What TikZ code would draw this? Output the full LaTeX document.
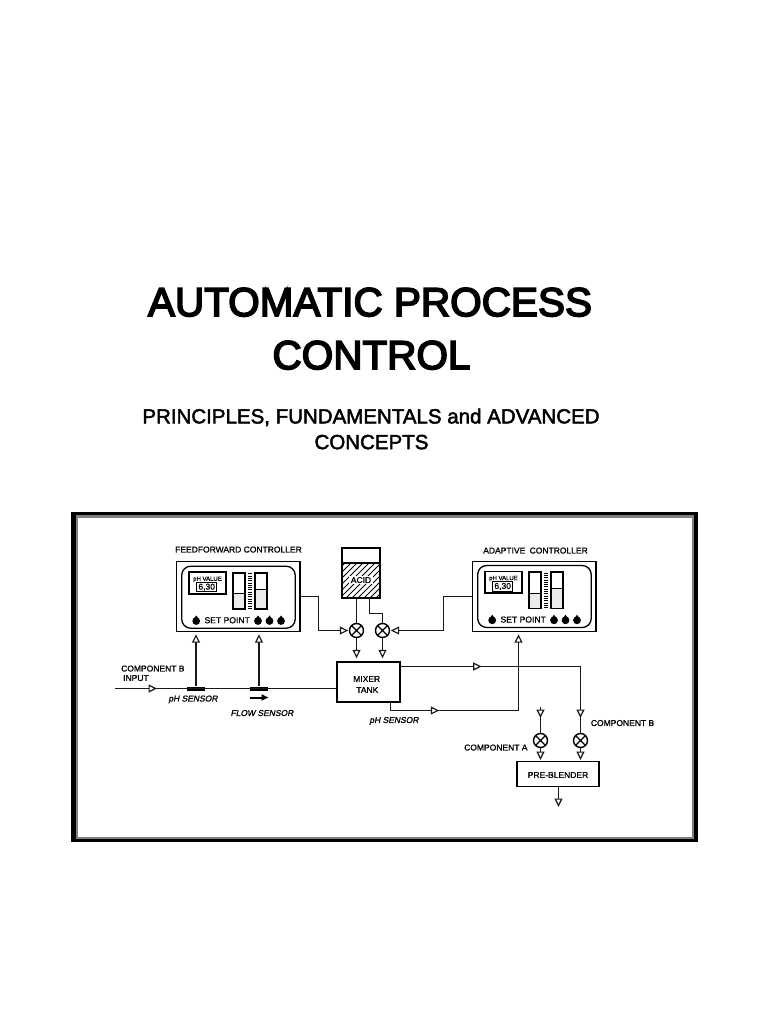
\documentclass[tikz,border=0pt]{standalone}
\usepackage{fontspec}
\setmainfont{Liberation Sans}
\newfontfamily\titlefont[FakeBold=4]{Liberation Sans}
\newfontfamily\subfont[FakeBold=2.2]{Liberation Sans}
\newfontfamily\labelfont[FakeBold=0.9]{Liberation Sans}
\newfontfamily\labelitalic[FakeBold=0.9,FakeSlant=0.2]{Liberation Sans}
\usetikzlibrary{arrows.meta,decorations.markings,calc}
\tikzset{
  tri/.tip={Triangle[fill=white,length=8.5pt,width=8pt,line width=1.2pt]},
  wire/.style={draw=black!90,line width=1.5pt},
  arrowwire/.style={wire,-{tri},shorten >=#1},
  arrowwire/.default=2pt,
  midarr/.style={postaction={decorate,decoration={markings,mark=at position #1 with {\arrow{tri}}}}},
  blockbox/.style={draw=black,line width=1.4pt,inner sep=0pt,fill=white},
  valve/.style={circle,draw=black,line width=1.4pt,fill=white,inner sep=0pt,minimum size=14pt,
    path picture={\draw[line width=1.2pt]
      (path picture bounding box.north west)--(path picture bounding box.south east)
      (path picture bounding box.north east)--(path picture bounding box.south west);}},
  lab/.style={font=\labelfont\fontsize{8.5}{10}\selectfont,text depth=0pt,inner sep=0pt},
  itlab/.style={font=\labelitalic\fontsize{8.5}{10}\selectfont,text depth=0pt,inner sep=0pt},
  sensorbar/.style={fill=black,inner sep=0pt,minimum width=18pt,minimum height=4pt},
  barbox/.style={draw=black,line width=1.6pt,fill=white},
  dropm/.pic={\fill (0,0.8) circle (3.9);\fill (-2.6,-1) -- (0,-4.8) -- (2.6,-1) -- cycle;},
  panel/.pic={
    \draw[line width=1.3pt,rounded corners=9pt] (5,4.5) rectangle (118.5,66.5);
    \draw[line width=1.8pt,fill=white] (12.5,10.5) rectangle (49,32);
    \node[font=\labelfont\fontsize{6}{7}\selectfont,inner sep=0pt,text depth=0pt] (phtext) at (30.8,17) {pH VALUE};
    \node[draw=black,line width=1pt,fill=white,font=\labelfont\fontsize{8.5}{10}\selectfont,inner sep=0pt,
          minimum width=19.5pt,minimum height=9.5pt] (phval) at (30,25.5) {6,30};
    \draw[barbox] (56,11) rectangle (68,47.5);
    \fill[black!8] (56.8,32) rectangle (67.2,46.7);
    \draw[line width=.9pt] (56,32) -- (68,32);
    \draw[barbox] (78.3,11) rectangle (90.3,47.5);
    \fill[black!8] (79.1,27.5) rectangle (89.5,46.7);
    \draw[line width=.9pt] (78.3,27.5) -- (90.3,27.5);
    \foreach \t in {12,14.3,...,47} {\draw[line width=.8pt] (71.3,\t) -- (75.3,\t);}
    \pic at (19.5,58.5) {dropm};
    \pic at (81.3,58.5) {dropm};
    \pic at (92.8,58.5) {dropm};
    \pic at (104.3,58.5) {dropm};
    \node[font=\labelfont\fontsize{8.6}{11}\selectfont,inner sep=0pt,text depth=0pt] (sp) at (50.5,58.5) {SET POINT};
  },
}
\begin{document}
\begin{tikzpicture}[x=1pt,y=-1pt]
\useasboundingbox (0,0) rectangle (768,1024);
\fill[white] (0,0) rectangle (768,1024);
% titles
\node[font=\titlefont\fontsize{40.5}{44}\selectfont,text depth=0pt,inner sep=0pt] (t1) at (370,302) {AUTOMATIC PROCESS};
\node[font=\titlefont\fontsize{40.5}{44}\selectfont,text depth=0pt,inner sep=0pt] (t2) at (371.5,355) {CONTROL};
\node[font=\subfont\fontsize{20.5}{24}\selectfont,text depth=0pt,inner sep=0pt] (s1) at (371,416) {PRINCIPLES, FUNDAMENTALS and ADVANCED};
\node[font=\subfont\fontsize{20.5}{24}\selectfont,text depth=0pt,inner sep=0pt] (s2) at (371.5,442) {CONCEPTS};
% frame
\fill[black] (71,512) rectangle (698,842);
\fill[black!50] (75.7,515) rectangle (694,839);
\fill[white] (77.7,517.7) rectangle (692,836.7);
% controllers
\node[blockbox,minimum width=123.3pt,minimum height=70pt] (ff) at (238.3,596.5) {};
\pic (ffp) at (176.7,561.7) {panel};
\node[blockbox,minimum width=123.3pt,minimum height=70pt] (ad) at (534.3,596.5) {};
\pic (adp) at (472.7,561) {panel};
\node[lab] (fflab) at (238.5,549.5) {FEEDFORWARD CONTROLLER};
\node[lab] (adlab) at (535.5,550.5) {ADAPTIVE\hspace{2pt} CONTROLLER};
% tank
\begin{scope}
  \clip (342,563) rectangle (380,598);
  \foreach \h in {-40,-34,...,50} {\draw[line width=.8pt] (336+\h,600) -- (336+\h+40,560);}
\end{scope}
\node[draw=black,line width=1.4pt,inner sep=0pt,minimum width=38pt,minimum height=50pt] (tank) at (361,573) {};
\coordinate (lvlL) at (342,563);
\coordinate (lvlR) at (380,563);
\draw[line width=1.3pt] (lvlL) -- (lvlR);
\node[lab,fill=white,inner sep=1.5pt] (acid) at (361,580) {ACID};
% valves
\node[valve] (v1) at (356.5,630.5) {};
\node[valve] (v2) at (382.5,630.5) {};
\node[valve] (va) at (540.5,740.5) {};
\node[valve] (vb) at (580.5,740.5) {};
% blocks
\node[blockbox,minimum width=63pt,minimum height=40pt] (mix) at (368.5,682) {};
\node[lab,align=center] (mixl1) at (366.7,679) {MIXER};
\node[lab] (mixl2) at (367.3,690) {TANK};
\node[blockbox,minimum width=81.7pt,minimum height=24.6pt] (pb) at (558,774) {};
\node[lab] (pbl) at (558,775) {PRE-BLENDER};
% sensors
\node[sensorbar] (phs) at (196,688.5) {};
\node[sensorbar] (fls) at (259,688.5) {};
% free ends
\coordinate (inA) at (115,688.5);
\coordinate (mixin) at (337,688.5);
\coordinate (flowA) at (250,697.5);
\coordinate (flowB) at (268.5,697.5);
\coordinate (t2o) at (369.5,598);
\coordinate (t2a) at (369.5,613.5);
\coordinate (t2b) at (382.5,613.5);
\coordinate (o1) at (400,666.5);
\coordinate (o1c) at (580.5,666.5);
\coordinate (o2) at (390.5,702);
\coordinate (o2c) at (390.5,710.5);
\coordinate (o2d) at (518.5,710.5);
\coordinate (atop) at (540.5,707);
\coordinate (pbout) at (558.5,807);
\coordinate (ffc1) at (318.5,596.5);
\coordinate (ffc2) at (318.5,630.5);
\coordinate (adc1) at (443.5,596.5);
\coordinate (adc2) at (443.5,630.5);
% connectors
\draw[wire,midarr=42pt] (inA) -- (mixin);
\draw[-{Triangle[length=7pt,width=6pt]},line width=2pt] (flowA) -- (flowB);
\draw[arrowwire] (phs.north) -- (phs.north |- ff.south);
\draw[arrowwire] (fls.north) -- (fls.north |- ff.south);
\draw[arrowwire=0.5pt] (ff.east) -- (ffc1) -- (ffc2) -- (v1.west);
\draw[arrowwire=0.5pt] (ad.west) -- (adc1) -- (adc2) -- (v2.east);
\draw[wire] (v1.north |- tank.south) -- (v1.north);
\draw[wire] (t2o) -- (t2a) -- (t2b) -- (v2.north);
\draw[arrowwire=3pt] (v1.south) -- (v1.south |- mix.north);
\draw[arrowwire=3pt] (v2.south) -- (v2.south |- mix.north);
\draw[wire,midarr=81.7pt,midarr=232pt] (o1) -- (o1c) -- (vb.north);
\draw[arrowwire] (o2) -- (o2c) -- (o2d) -- (o2d |- ad.south);
\draw[wire,midarr=57.3pt] (o2) -- (o2c) -- (o2d);
\draw[wire,midarr=11pt] (atop) -- (va.north);
\draw[arrowwire=1pt] (va.south) -- (va.south |- pb.north);
\draw[arrowwire=1pt] (vb.south) -- (vb.south |- pb.north);
\draw[wire,-{tri}] (pb.south -| pbout) -- (pbout);
% labels
\node[lab,anchor=west] (cb1) at (121,668.5) {COMPONENT B};
\node[lab,anchor=west] (cb2) at (123,678) {INPUT};
\node[itlab] (phl1) at (193,698.5) {pH SENSOR};
\node[itlab] (fll) at (262,713) {FLOW SENSOR};
\node[itlab] (phl2) at (394,720) {pH SENSOR};
\node[lab,anchor=west] (cbl) at (590.7,723) {COMPONENT B};
\node[lab,anchor=west] (cal) at (464,747.5) {COMPONENT A};
\end{tikzpicture}
\end{document}
